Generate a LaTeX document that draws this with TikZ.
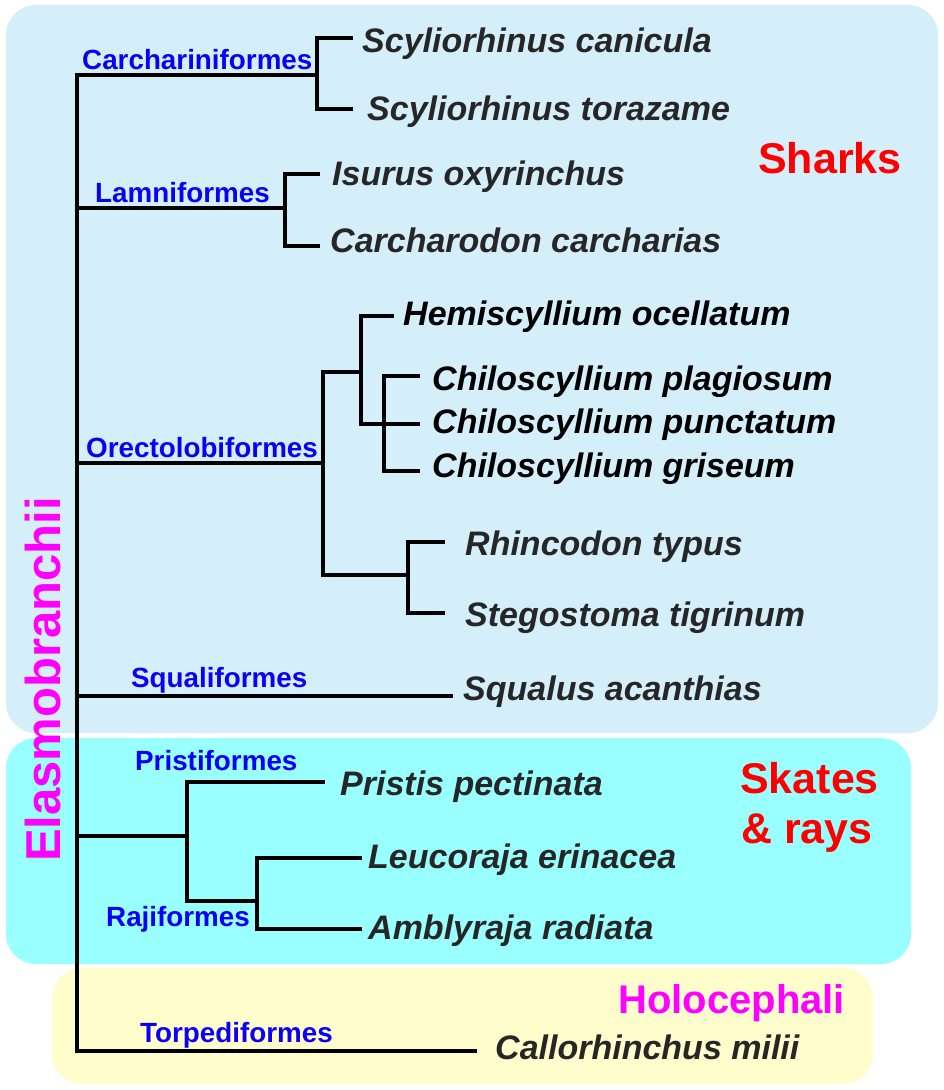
\documentclass[tikz,border=0pt]{standalone}
\usepackage{fontspec}
\setmainfont{Liberation Sans}
\definecolor{sharkbg}{HTML}{D5EFFA}
\definecolor{skatebg}{HTML}{99FFFF}
\definecolor{holobg}{HTML}{FFFDCC}
\definecolor{ordblue}{HTML}{0A00F5}
\definecolor{spgray}{HTML}{262626}
\definecolor{grpred}{HTML}{FF0000}
\definecolor{grpmag}{HTML}{FF00FF}
\tikzset{
  br/.style={line width=3.4pt, line join=miter, black},
  spname/.style={anchor=base west, inner sep=0pt, text=spgray, font=\fontsize{34}{40}\selectfont\bfseries\itshape},
  spblack/.style={spname, text=black},
  ordlab/.style={anchor=base west, inner sep=0pt, text=ordblue, font=\fontsize{27.8}{32}\selectfont\bfseries},
  biglab/.style={anchor=base west, inner sep=0pt, font=\fontsize{43}{50}\selectfont\bfseries},
  grp/.style={rounded corners=30pt}
}
\begin{document}
\begin{tikzpicture}[x=1pt,y=-1pt]
\useasboundingbox (0,0) rectangle (944,1090);
% background groups
\fill[grp, sharkbg] (6,5) rectangle (938,733);
\fill[grp, skatebg] (6,738) rectangle (911,964);
\fill[grp, holobg] (52,968) rectangle (873,1084);

% group labels
\node[biglab, text=grpred] (sharks) at (758,173) {Sharks};
\node[biglab, text=grpred] (skates) at (740,793) {Skates};
\node[biglab, text=grpred] (rays) at (741,843) {\& rays};
\node[biglab, text=grpmag, font=\fontsize{40}{46}\selectfont\bfseries] (holo) at (618,1013) {Holocephali};
\node[biglab, text=grpmag, font=\fontsize{49}{56}\selectfont\bfseries, rotate=90] (elasmo) at (60,862) {Elasmobranchii};

% root coordinates
\coordinate (r0) at (77,75);
\coordinate (r1) at (77,208);
\coordinate (r2) at (77,463);
\coordinate (r3) at (77,696);
\coordinate (r4) at (77,836);
\coordinate (r5) at (77,1051);

% Carchariniformes
\coordinate (nCar) at (317,75);
\coordinate (nCarA) at (317,38);
\coordinate (nCarB) at (317,109);
\coordinate (tSc1) at (353,38);
\coordinate (tSc2) at (353,109);
% Lamniformes
\coordinate (nLam) at (285,208);
\coordinate (nLamA) at (285,174);
\coordinate (nLamB) at (285,246);
\coordinate (tIs) at (320,174);
\coordinate (tCa) at (320,246);
% Orectolobiformes
\coordinate (nOr) at (323,463);
\coordinate (nOrA) at (323,372);
\coordinate (nOrB) at (323,575);
\coordinate (nHe) at (361,372);
\coordinate (nHeA) at (361,316);
\coordinate (nHeB) at (361,424);
\coordinate (tHe) at (394,316);
\coordinate (nCh) at (384,424);
\coordinate (nChA) at (384,376);
\coordinate (nChB) at (384,471);
\coordinate (tCh1) at (420,376);
\coordinate (tCh2) at (420,424);
\coordinate (tCh3) at (420,471);
\coordinate (nRh) at (408,575);
\coordinate (nRhA) at (408,542);
\coordinate (nRhB) at (408,613);
\coordinate (tRh) at (445,542);
\coordinate (tSt) at (445,613);
% Squaliformes
\coordinate (tSq) at (453,696);
% Skates & rays
\coordinate (nSk) at (187,836);
\coordinate (nSkA) at (187,782);
\coordinate (nSkB) at (187,901);
\coordinate (tPr) at (325,782);
\coordinate (nRa) at (257,901);
\coordinate (nRaA) at (257,858);
\coordinate (nRaB) at (257,929);
\coordinate (tLe) at (362,858);
\coordinate (tAm) at (362,929);
% Torpediformes
\coordinate (tCm) at (477,1051);

% tree
\draw[br] (nCar) -- (r0) -- (r5) -- (tCm);
\draw[br] (tSc1) -- (nCarA) -- (nCarB) -- (tSc2);
\draw[br] (r1) -- (nLam);
\draw[br] (tIs) -- (nLamA) -- (nLamB) -- (tCa);
\draw[br] (r2) -- (nOr);
\draw[br] (nHe) -- (nOrA) -- (nOrB) -- (nRh);
\draw[br] (tHe) -- (nHeA) -- (nHeB) -- (nCh);
\draw[br] (tCh1) -- (nChA) -- (nChB) -- (tCh3);
\draw[br] (nCh) -- (tCh2);
\draw[br] (tRh) -- (nRhA) -- (nRhB) -- (tSt);
\draw[br] (r3) -- (tSq);
\draw[br] (r4) -- (nSk);
\draw[br] (tPr) -- (nSkA) -- (nSkB) -- (nRa);
\draw[br] (tLe) -- (nRaA) -- (nRaB) -- (tAm);

% order labels
\node[ordlab] (oCar) at (82,69) {Carchariniformes};
\node[ordlab] (oLam) at (95,202) {Lamniformes};
\node[ordlab] (oOr) at (86,457) {Orectolobiformes};
\node[ordlab] (oSq) at (131,687) {Squaliformes};
\node[ordlab] (oPr) at (135,770) {Pristiformes};
\node[ordlab] (oRa) at (106,926) {Rajiformes};
\node[ordlab] (oTo) at (140,1042) {Torpediformes};

% species
\node[spname] (sSc1) at (362,52) {Scyliorhinus canicula};
\node[spname] (sSc2) at (367,120) {Scyliorhinus torazame};
\node[spname] (sIs) at (332,185) {Isurus oxyrinchus};
\node[spname] (sCa) at (330,252) {Carcharodon carcharias};
\node[spblack] (sHe) at (403,325) {Hemiscyllium ocellatum};
\node[spblack] (sCh1) at (432,390) {Chiloscyllium plagiosum};
\node[spblack] (sCh2) at (432,433) {Chiloscyllium punctatum};
\node[spblack] (sCh3) at (432,477) {Chiloscyllium griseum};
\node[spname] (sRh) at (465,555) {Rhincodon typus};
\node[spname] (sSt) at (465,626) {Stegostoma tigrinum};
\node[spname] (sSq) at (463,700) {Squalus acanthias};
\node[spname] (sPr) at (340,795) {Pristis pectinata};
\node[spname] (sLe) at (368,868) {Leucoraja erinacea};
\node[spname] (sAm) at (368,939) {Amblyraja radiata};
\node[spname] (sCm) at (495,1059) {Callorhinchus milii};
\end{tikzpicture}
\end{document}
